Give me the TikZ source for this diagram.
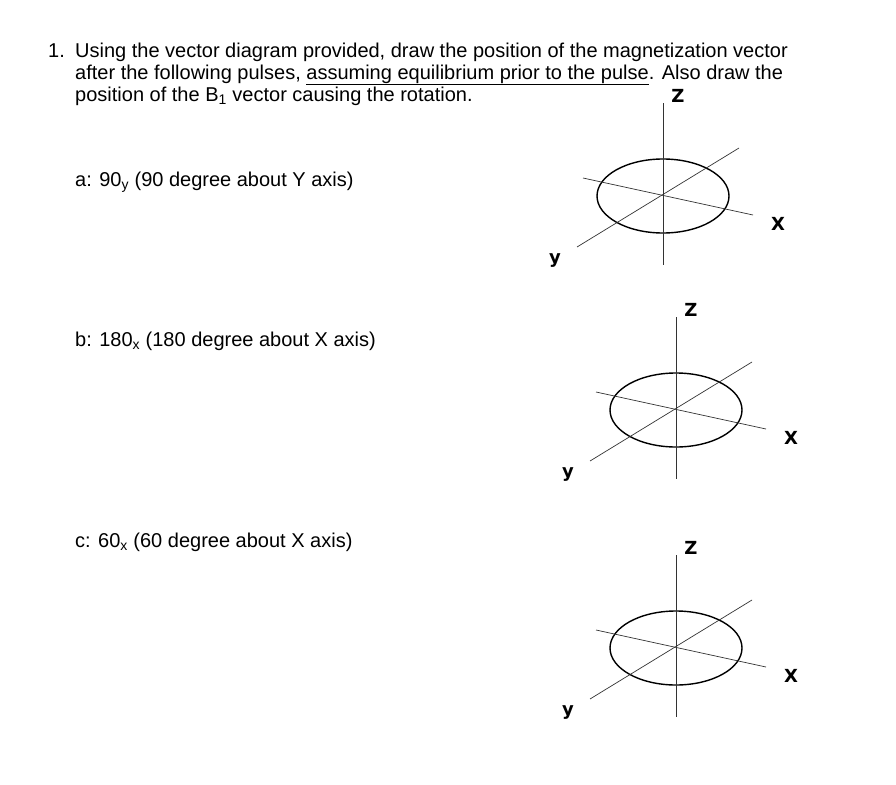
\documentclass[tikz,border=0pt]{standalone}
\usepackage{fontspec}
\setmainfont{Liberation Sans}
\newfontfamily\axfont{DejaVu Sans}
\begin{document}
\begin{tikzpicture}[x=1pt,y=-1pt,
  txt/.style={anchor=base west,inner sep=0pt,font=\fontsize{20}{22}\selectfont},
  axl/.style={inner sep=0pt,font=\axfont\bfseries\fontsize{18}{20}\selectfont},
  axis/.style={draw=black!80,line width=0.7pt},
  disc/.style={draw=black,line width=1.4pt}]
\useasboundingbox[fill=white] (0,0) rectangle (896,784);
\node[txt] (n1) at (48,57) {1.};
\node[txt] (l1) at (75,57) {Using the vector diagram provided, draw the position of the magnetization vector};
\node[txt] (l2) at (75,79) {after the following pulses, \underline{assuming equilibrium prior to the pulse}. Also draw the};
\node[txt] (l3) at (75,101) {position of the B\textsubscript{1} vector causing the rotation.};
\node[txt] (qa) at (75,186) {a: 90\textsubscript{y} (90 degree about Y axis)};
\node[txt] (qb) at (75,346) {b: 180\textsubscript{x} (180 degree about X axis)};
\node[txt] (qc) at (75,547) {c: 60\textsubscript{x} (60 degree about X axis)};
\foreach \i/\dx/\dy in {1/0/0,2/13/214,3/13/452}{
 \begin{scope}[shift={(\dx,\dy)}]
  \coordinate (c\i) at (663,196);
  \draw[disc] (c\i) ellipse (66 and 37);
  \draw[axis] (663,103) coordinate (zt\i) -- (663,265) coordinate (zb\i);
  \draw[axis] (583,178) coordinate (xl\i) -- (753,215) coordinate (xr\i);
  \draw[axis] (577,247) coordinate (yl\i) -- (739,148) coordinate (yr\i);
  \node[axl] (Z\i) at (678,96) {Z};
  \node[axl] (X\i) at (778,224) {X};
  \node[axl] (Y\i) at (555,261) {y};
 \end{scope}}
\end{tikzpicture}
\end{document}
